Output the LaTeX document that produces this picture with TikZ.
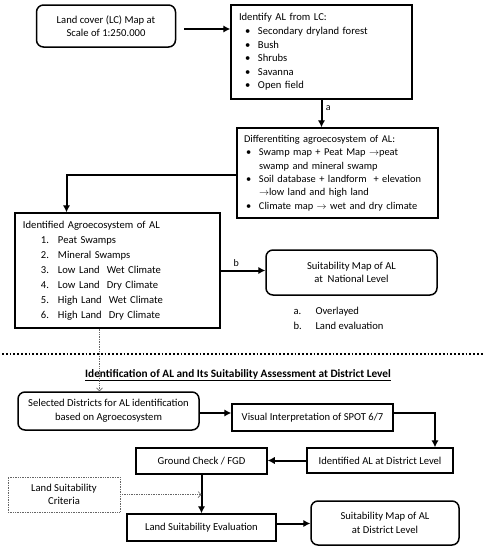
\documentclass[tikz,border=0pt]{standalone}
\usepackage{fontspec}
\setmainfont{Carlito}
\usetikzlibrary{arrows.meta}
\usetikzlibrary{calc}
\newcommand{\nohyph}{\hyphenpenalty=10000\relax}
\tikzset{> = {Latex[length=7pt,width=7.5pt]}}
\tikzset{sqbox/.style={draw, line width=1.5pt, inner xsep=8pt, inner ysep=2pt, font={\fontsize{10.6}{13.6}\selectfont\nohyph}},
  rdbox/.style={sqbox, rounded corners=7pt},
  dotbox/.style={sqbox, line width=.7pt, densely dotted, draw=black!60},
  flow/.style={->, line width=2pt},
  dotflow/.style={-{Straight Barb[length=3pt,width=6pt]}, line width=.7pt, densely dotted, draw=black!60}}
\newcommand{\bul}{\hspace*{6pt}\makebox[13pt][l]{\textbullet}}
\newcommand{\num}[1]{\hspace*{18pt}\makebox[17pt][l]{#1}}

\begin{document}
\begin{tikzpicture}[x=1pt, y=-1pt]
\useasboundingbox (0,0) rectangle (486,550);
\node[rdbox, minimum width=139pt, minimum height=42pt, align=center] (lcmap) at (106,26) {Land cover (LC) Map at\\Scale of 1:250.000};
\node[sqbox, text width=165pt, minimum height=94pt, align=left] (idal) at (321.5,52) {Identify AL from LC:\\\bul Secondary dryland forest\\\bul Bush\\\bul Shrubs\\\bul Savanna\\\bul Open field};
\node[sqbox, text width=187pt, inner xsep=7pt, minimum height=90pt, align=left, font={\fontsize{10.4}{13.3}\selectfont\nohyph}] (diff) at (337.5,173) {Differentiting agroecosystem of AL:\\\hspace*{2pt}\makebox[13pt][l]{\textbullet}Swamp map + Peat Map $\rightarrow$peat\\\hspace*{15pt}swamp and mineral swamp\\\hspace*{2pt}\makebox[13pt][l]{\textbullet}Soil database + landform~ + elevation\\\hspace*{15pt}$\rightarrow$low land and high land\\\hspace*{2pt}\makebox[13pt][l]{\textbullet}Climate map $\rightarrow$ wet and dry climate};
\node[sqbox, text width=189pt, minimum height=115pt, align=left, font={\fontsize{10.6}{15}\selectfont}] (agro) at (117.5,270.5) {Identified Agroecosystem of AL\\\num{1.}Peat Swamps\\\num{2.}Mineral Swamps\\\num{3.}Low Land~ Wet Climate\\\num{4.}Low Land~ Dry Climate\\\num{5.}High Land~ Wet Climate\\\num{6.}High Land~ Dry Climate};
\node[rdbox, minimum width=171pt, minimum height=45pt, align=center] (natmap) at (351.5,272.5) {Suitability Map of AL\\at~ National Level};
\node[anchor=west, align=left, font={\fontsize{10.6}{15}\selectfont}] (notes) at (290,318.5) {\makebox[22pt][l]{a.}Overlayed\\\makebox[22pt][l]{b.}Land evaluation};
\draw[line width=1.8pt, dotted] (2,354) -- (484,354);
\node[font={\fontsize{11.3}{12}\selectfont\bfseries}] (title) at (238,375) {\underline{Identification of AL and Its Suitability Assessment at District Level}};
\node[rdbox, minimum width=181pt, minimum height=38pt, align=center] (seldist) at (108.5,411) {Selected Districts for AL identification\\based on Agroecosystem};
\node[sqbox, minimum width=161pt, minimum height=27pt] (visint) at (312.5,417.5) {Visual Interpretation of SPOT 6/7};
\node[sqbox, minimum width=146pt, minimum height=25pt] (iddist) at (380,460.5) {Identified AL at District Level};
\node[sqbox, minimum width=131pt, minimum height=26pt] (gcheck) at (201.5,461) {Ground Check / FGD};
\node[sqbox, minimum width=149pt, minimum height=27pt] (lseval) at (201.5,527.5) {Land Suitability Evaluation};
\node[dotbox, minimum width=112pt, minimum height=35pt, align=center] (crit) at (64,494.5) {Land Suitability\\Criteria};
\node[rdbox, minimum width=148pt, minimum height=44pt, align=center] (distmap) at (385,523) {Suitability Map of AL\\at District Level};
\coordinate (join) at ($(gcheck.south)!.5!(lseval.north)$);
\draw[flow, shorten <=8pt] ([yshift=-3pt]lcmap.east) -- ([yshift=-3pt]lcmap.east -| idal.west);
\draw[flow] (idal.south) -- node[right, pos=.3]{a} (idal.south |- diff.north);
\draw[flow] ([yshift=-2pt]diff.west) -| ([xshift=-51pt]agro.north);
\draw[flow] (agro.east) -- node[above, pos=.35]{b} (agro.east -| natmap.west);
\draw[dotflow] ([xshift=-18pt]agro.south) -- ([xshift=-18pt]agro.south |- seldist.north);
\draw[flow] ([yshift=-2pt]seldist.east) -- ([yshift=-2pt]seldist.east -| visint.west);
\draw[flow] ([yshift=5pt]visint.east) -| ([xshift=55pt]iddist.north);
\draw[flow] (iddist.west) -- (iddist.west -| gcheck.east);
\draw[flow] (gcheck.south) -- (lseval.north);
\draw[dotflow] (crit.east) -- (crit.east -| join);
\draw[flow] ([yshift=4pt]lseval.east) -- ([yshift=4pt]lseval.east -| distmap.west);
\end{tikzpicture}
\end{document}
